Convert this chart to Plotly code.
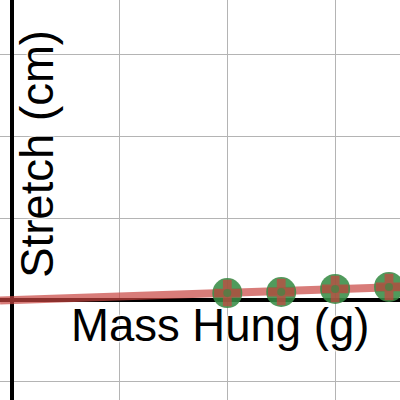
import numpy as np
import plotly.graph_objects as go

# Data
mass_g = [200, 250, 300, 350]
stretch_cm = [0.85, 0.98, 1.35, 1.6]

x_title = "Mass Hung (g)"
y_title = "Stretch (cm)"

x_range = [-10.9, 360.2]
y_range = [-12.24, 36.72]

# least squares line through origin
mx = np.array(mass_g, dtype=float)
sy = np.array(stretch_cm, dtype=float)
k = float((mx * sy).sum() / (mx * mx).sum())
line_x = [x_range[0], x_range[1]]
line_y = [k * v for v in line_x]

RED = "rgba(199,68,64,0.7)"
GREEN = "rgba(56,140,70,0.88)"

fig = go.Figure()
fig.add_trace(go.Scatter(x=line_x, y=line_y, mode="lines",
                         line=dict(color=RED, width=8), hoverinfo="skip"))
fig.add_trace(go.Scatter(x=mass_g, y=stretch_cm, mode="markers",
                         marker=dict(size=30, color=GREEN, line=dict(width=0))))
fig.add_trace(go.Scatter(x=mass_g, y=stretch_cm, mode="markers",
                         marker=dict(symbol="cross", size=22, color=RED, line=dict(width=0))))
fig.add_trace(go.Scatter(x=mass_g, y=stretch_cm, mode="markers",
                         marker=dict(size=8, color="rgba(56,140,70,0.65)", line=dict(width=0))))

halo = "white 0px 0px 2px, white 0px 0px 2px, white 0px 0px 3px, white 0px 0px 3px"

fig.add_annotation(text=x_title, xref="paper", yref="paper", x=0.551, y=0.1855,
                   xanchor="center", yanchor="middle", showarrow=False,
                   font=dict(family="Liberation Sans, Arial", size=45.5, color="black", shadow=halo))
fig.add_annotation(text=y_title, xref="paper", yref="paper", x=0.092, y=0.615,
                   xanchor="center", yanchor="middle", showarrow=False, textangle=-90,
                   font=dict(family="Liberation Sans, Arial", size=45.5, color="black", shadow=halo))

axis_common = dict(showticklabels=False, ticks="", gridcolor="#b4b4b4", gridwidth=1.2,
                   zeroline=True, zerolinecolor="black", zerolinewidth=3.5,
                   showline=False, fixedrange=True)

fig.update_layout(
    width=400, height=400, margin=dict(l=0, r=0, t=0, b=0),
    paper_bgcolor="white", plot_bgcolor="white", showlegend=False,
    xaxis=dict(range=x_range, tick0=0, dtick=100, **axis_common),
    yaxis=dict(range=y_range, tick0=0, dtick=10, **axis_common),
)

fig.write_html("out.html", config={"displayModeBar": False},
               post_script="document.body.style.margin='0';document.body.style.padding='0';")
